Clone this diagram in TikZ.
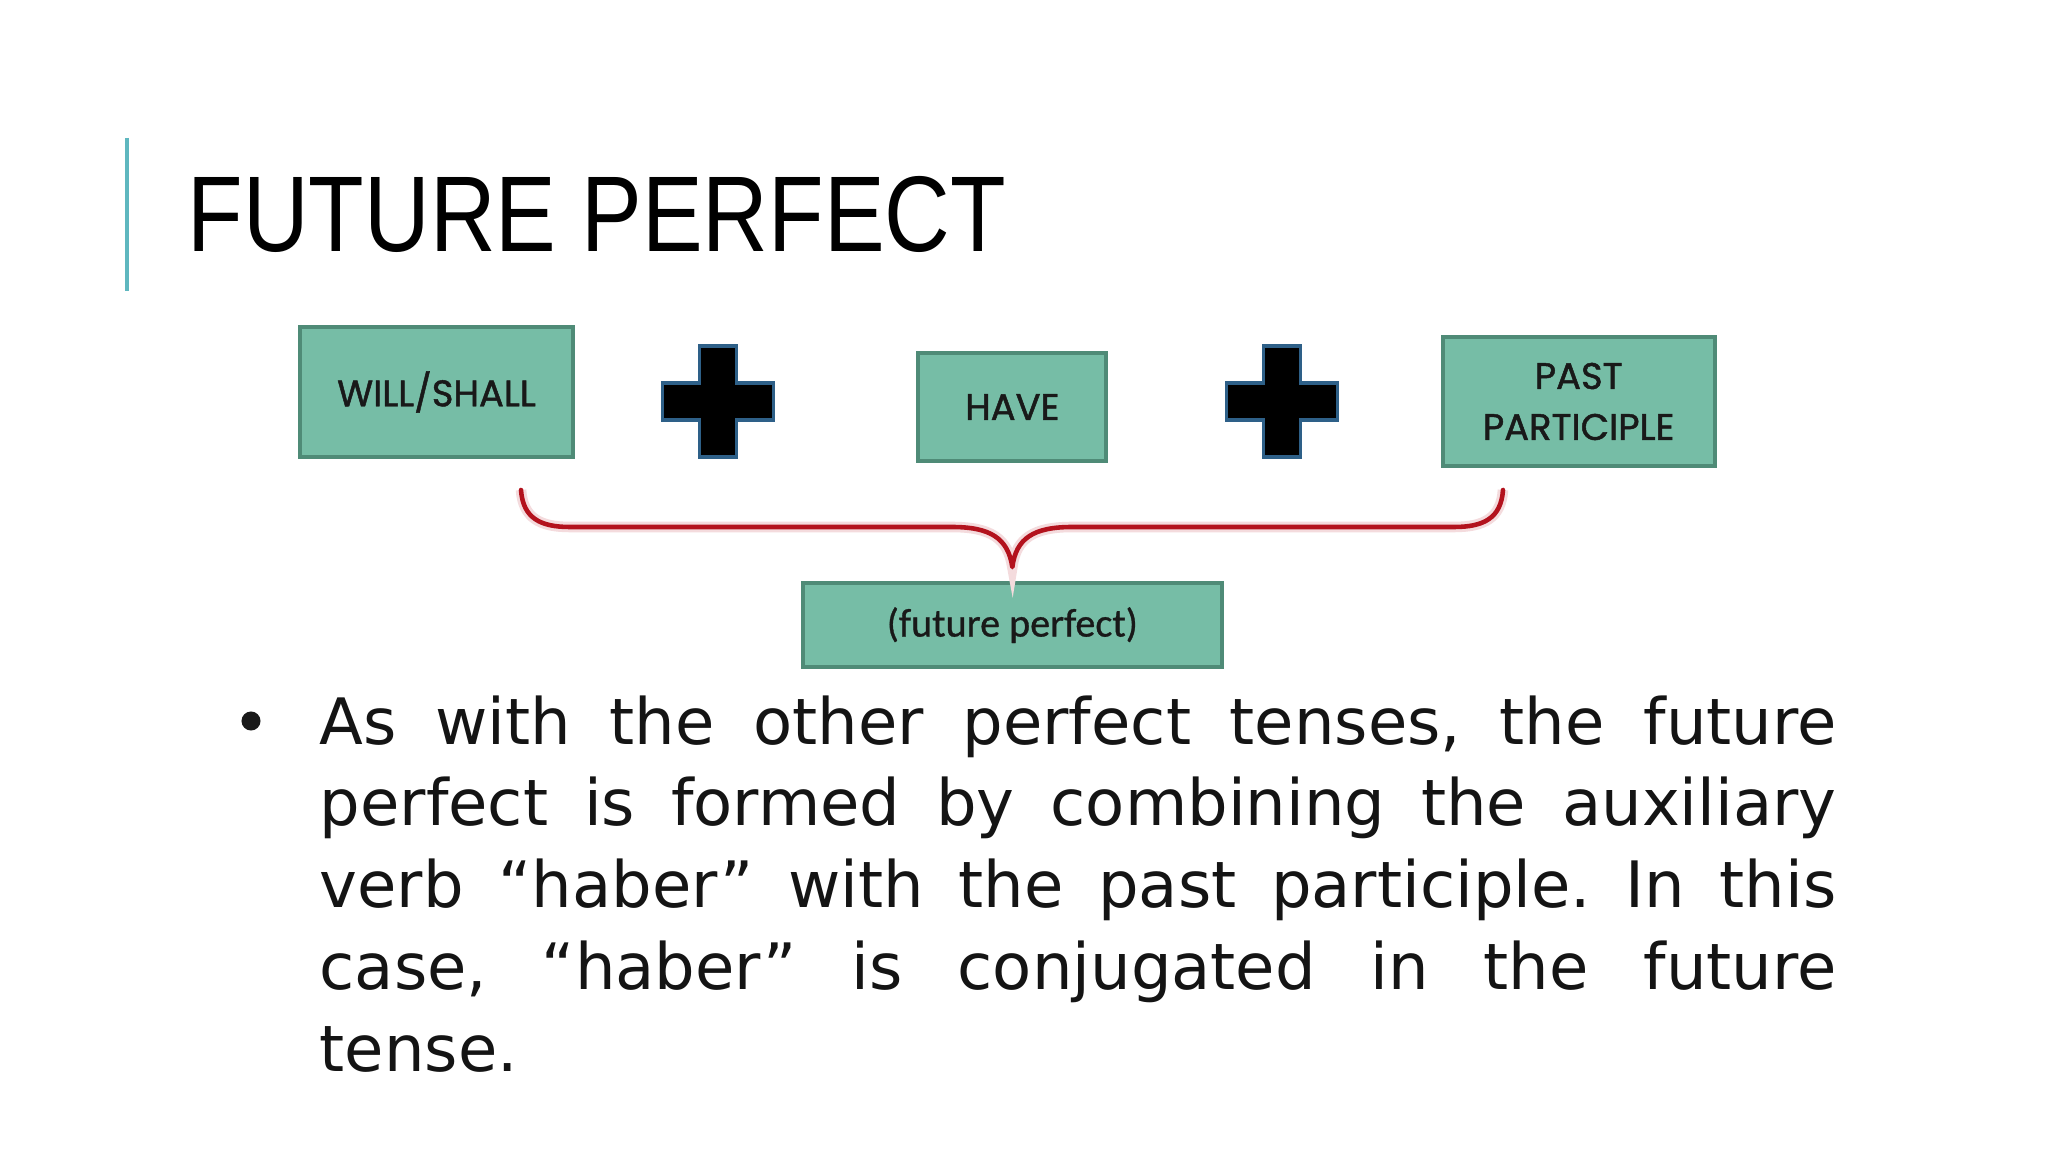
\documentclass[tikz,border=0pt]{standalone}
\usepackage{fontspec}
\setmainfont{DejaVu Sans}
\newfontfamily\titlefont[FakeStretch=0.845]{Liberation Sans}
\newfontfamily\boxfont[FakeBold=1.3]{Poppins}
\newfontfamily\labelfont[FakeBold=0.8]{Carlito}
\usetikzlibrary{positioning}

\definecolor{boxfill}{HTML}{76BDA6}
\definecolor{boxedge}{HTML}{4F8B77}
\definecolor{plusedge}{HTML}{2E6088}
\definecolor{bracered}{HTML}{B3121D}
\definecolor{accentline}{HTML}{5FB7BF}

\begin{document}
\begin{tikzpicture}[
    x=0.01cm, y=-0.01cm,
    tensebox/.style={draw=boxedge,fill=boxfill,line width=1.1pt,align=center,
                     inner sep=0pt,outer sep=0pt,text=black!90,
                     font=\boxfont\fontsize{10.5pt}{14.5pt}\selectfont},
    plusnode/.style={minimum width=1.11cm,minimum height=1.11cm,inner sep=0pt,outer sep=0pt},
    plusline/.style={fill=black,draw=plusedge,line width=0.9pt},
    bracepath/.style={draw=bracered,line width=1.3pt,line cap=round,line join=round,
                      preaction={draw=bracered!15,line width=3pt}},
  ]
    \fill[white] (0,0) rectangle (2048,1152);
    \useasboundingbox (0,0) rectangle (2048,1152);

    \draw[accentline,line width=0.9pt] (127,138) -- (127,291);
    \node[anchor=base west,inner sep=0pt,font=\titlefont\fontsize{30.6pt}{36pt}\selectfont]
      (title) at (187,252) {FUTURE PERFECT};

    \node[tensebox,minimum width=2.73cm,minimum height=1.30cm] (will) at (436.5,392) {WILL/SHALL};
    \node[plusnode,right=0.89cm of will,yshift=-0.095cm] (plusa) {};
    \node[tensebox,minimum width=1.88cm,minimum height=1.08cm,right=1.45cm of plusa,yshift=-0.055cm] (have) {HAVE};
    \node[plusnode,right=1.20cm of have,yshift=0.055cm] (plusb) {};
    \node[tensebox,minimum width=2.72cm,minimum height=1.29cm,right=1.05cm of plusb] (past) {PAST\\PARTICIPLE};
    \node[tensebox,minimum width=4.19cm,minimum height=0.84cm,below=1.22cm of have,
          font=\labelfont\fontsize{11.4pt}{14pt}\selectfont] (fp) {(future perfect)};

    \foreach \p in {plusa,plusb}
      \draw[plusline] (\p.center) ++(-18.5,-55.5) -- ++(37,0) -- ++(0,37) -- ++(37,0)
        -- ++(0,37) -- ++(-37,0) -- ++(0,37) -- ++(-37,0) -- ++(0,-37) -- ++(-37,0)
        -- ++(0,-37) -- ++(37,0) -- cycle;

    \coordinate (bracel) at (521,490);
    \coordinate (bracer) at (1503,490);
    \coordinate (bracetip) at ([yshift=0.16cm]fp.north);
    \draw[bracepath] (bracel) .. controls (523,518) and (540,527) .. (570,527) -- (952,527)
      .. controls (990,527) and (1008,538) .. (bracetip)
      .. controls (1016,538) and (1034,527) .. (1072,527) -- (1454,527)
      .. controls (1484,527) and (1501,518) .. (bracer);

    \node[circle,fill=black!90,inner sep=0pt,minimum size=0.19cm] (bullet) at (251,721) {};
    \node[anchor=base west,inner sep=0pt,text width=15.16cm,align=justify,text=black!92,
          font=\fontsize{18.2pt}{23.3pt}\selectfont] (body) at (319,744)
      {\frenchspacing\tolerance=10000 As with the other perfect tenses, the future\linebreak
       perfect is formed by combining the auxiliary\linebreak
       verb “haber” with the past participle. In this\linebreak
       case, “haber” is conjugated in the future\linebreak
       tense.};
  \end{tikzpicture}
\end{document}
